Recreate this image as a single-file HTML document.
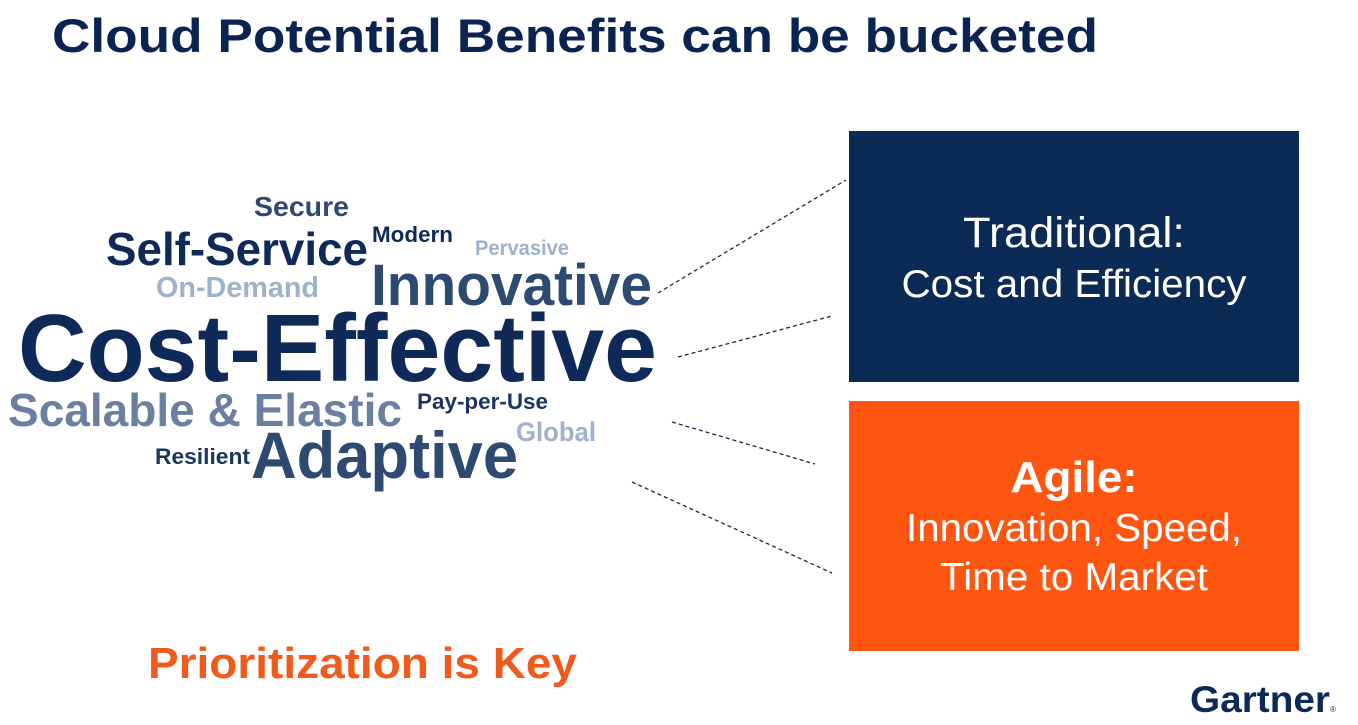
<!DOCTYPE html>
<html><head><meta charset="utf-8"><style>
html,body{margin:0;padding:0;background:#fff;width:1358px;height:725px;overflow:hidden}
svg{display:block}
text{font-family:"Liberation Sans",Arial,sans-serif}
</style></head><body>
<svg width="1358" height="725" viewBox="0 0 1358 725" xmlns="http://www.w3.org/2000/svg">
<text x="52" y="52" font-size="47" font-weight="bold" fill="#0b2350" textLength="1046" lengthAdjust="spacingAndGlyphs">Cloud Potential Benefits can be bucketed</text>

<text x="254" y="216" font-size="28" font-weight="bold" fill="#2e4a70" textLength="95" lengthAdjust="spacingAndGlyphs">Secure</text>
<text x="106" y="265" font-size="46" font-weight="bold" fill="#0f2a58" textLength="262" lengthAdjust="spacingAndGlyphs">Self-Service</text>
<text x="372" y="242" font-size="22" font-weight="bold" fill="#0f2a58" textLength="81" lengthAdjust="spacingAndGlyphs">Modern</text>
<text x="475" y="255" font-size="21" font-weight="bold" fill="#9fb1cc" textLength="94" lengthAdjust="spacingAndGlyphs">Pervasive</text>
<text x="156" y="297" font-size="29" font-weight="bold" fill="#9fb1cc" textLength="163" lengthAdjust="spacingAndGlyphs">On-Demand</text>
<text x="371" y="305" font-size="58" fill="#2e4a70" font-weight="bold" textLength="281" lengthAdjust="spacingAndGlyphs">Innovative</text>
<text x="18" y="381" font-size="96" font-weight="bold" fill="#0f2a58" textLength="639" lengthAdjust="spacingAndGlyphs">Cost-Effective</text>
<text x="8" y="426" font-size="46" font-weight="bold" fill="#6b7fa0" textLength="394" lengthAdjust="spacingAndGlyphs">Scalable &amp; Elastic</text>
<text x="417" y="409" font-size="22" font-weight="bold" fill="#1c3560" textLength="131" lengthAdjust="spacingAndGlyphs">Pay-per-Use</text>
<text x="516" y="441" font-size="27" font-weight="bold" fill="#9fb1cc" textLength="80" lengthAdjust="spacingAndGlyphs">Global</text>
<text x="155" y="464" font-size="22" font-weight="bold" fill="#1c3560" textLength="95" lengthAdjust="spacingAndGlyphs">Resilient</text>
<text x="251" y="478" font-size="66" font-weight="bold" fill="#2e4a70" textLength="267" lengthAdjust="spacingAndGlyphs">Adaptive</text>

<text x="148" y="678" font-size="44" font-weight="bold" fill="#f05a1a" textLength="429" lengthAdjust="spacingAndGlyphs">Prioritization is Key</text>

<g stroke="#1a2a48" stroke-width="1.3" stroke-dasharray="4,3">
<line x1="658" y1="293" x2="846" y2="180"/>
<line x1="678" y1="357" x2="832" y2="316"/>
<line x1="672" y1="422" x2="815" y2="464"/>
<line x1="632" y1="482" x2="832" y2="573"/>
</g>

<rect x="849" y="131" width="450" height="251" fill="#0c2a56"/>
<rect x="849" y="401" width="450" height="250" fill="#fe5510"/>
<g fill="#fff" text-anchor="middle">
<text x="1074" y="247" font-size="43" textLength="222" lengthAdjust="spacingAndGlyphs">Traditional:</text>
<text x="1074" y="297" font-size="39" textLength="345" lengthAdjust="spacingAndGlyphs">Cost and Efficiency</text>
<text x="1074" y="492" font-size="44" font-weight="bold" textLength="127" lengthAdjust="spacingAndGlyphs">Agile:</text>
<text x="1074" y="541" font-size="39" textLength="336" lengthAdjust="spacingAndGlyphs">Innovation, Speed,</text>
<text x="1074" y="590" font-size="39" textLength="268" lengthAdjust="spacingAndGlyphs">Time to Market</text>
</g>

<text x="1190" y="712" font-size="37" font-weight="bold" fill="#0c2a56" textLength="140" lengthAdjust="spacingAndGlyphs">Gartner</text>
<text x="1330" y="712" font-size="8" fill="#0c2a56">®</text>
</svg>
</body></html>
